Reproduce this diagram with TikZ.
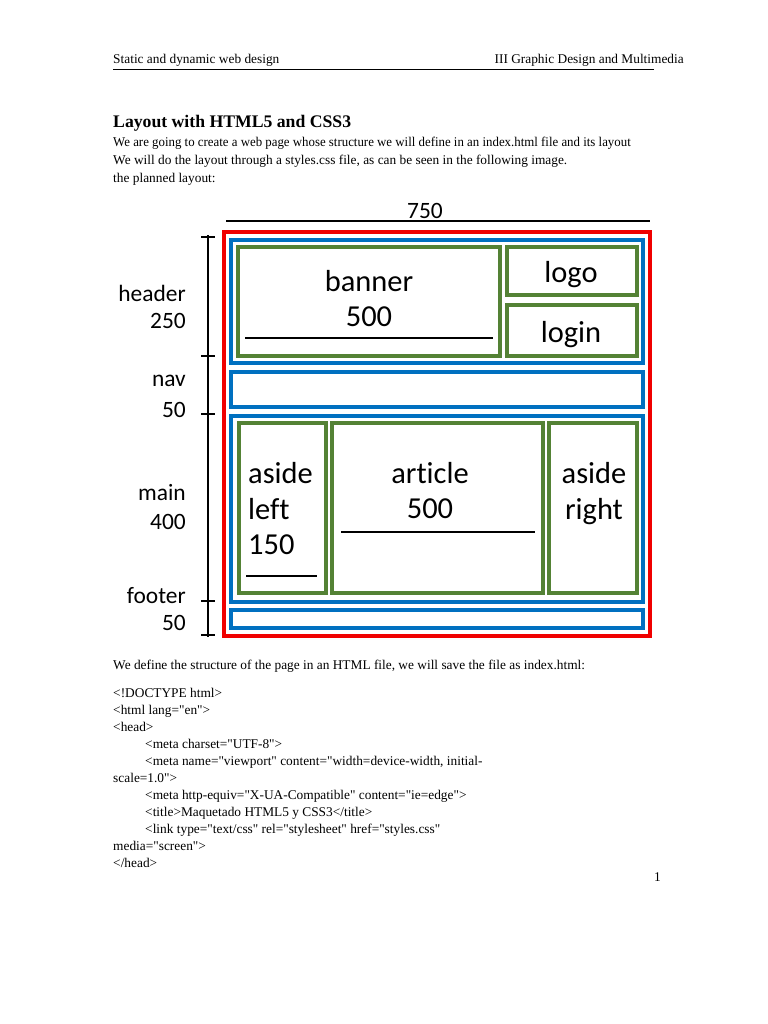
\documentclass[tikz,border=0pt]{standalone}
\usepackage{fontspec}
\setmainfont{Liberation Serif}[Ligatures=TeXOff]
\newfontfamily\calibri{Carlito}[Ligatures=NoCommon]
\usetikzlibrary{positioning}
\definecolor{boxred}{RGB}{240,0,0}
\definecolor{boxblue}{RGB}{0,112,192}
\definecolor{boxgreen}{RGB}{84,130,53}

\begin{document}
\begin{tikzpicture}[x=0.03cm,y=-0.03cm,
  txt/.style={anchor=base west,inner sep=0pt,font=\fontsize{11.4}{13}\selectfont},
  lbl/.style={anchor=east,inner sep=0pt,font=\calibri\fontsize{20}{24}\selectfont},
  big/.style={inner sep=0pt,font=\calibri\fontsize{26}{30}\selectfont},
  redbox/.style={draw=boxred,line width=3.4pt},
  bluebox/.style={draw=boxblue,line width=3.6pt},
  greenbox/.style={draw=boxgreen,line width=3.4pt},
  rule/.style={line width=1.3pt}]
  \useasboundingbox[fill=white] (0,0) rectangle (768,1024);
  % running head
  \node[txt] (headl) at (113,63) {Static and dynamic web design};
  \node[txt,anchor=base east] (headr) at (684,63) {III Graphic Design and Multimedia};
  \draw[line width=0.8pt] (113,69) -- (654,69);
  % title and intro
  \node[txt,font=\bfseries\fontsize{15.1}{18}\selectfont] (title) at (113,127) {Layout with HTML5 and CSS3};
  \node[txt] (intro1) at (113,146) {\scalebox{0.963}[1]{We are going to create a web page whose structure we will define in an index.html file and its layout}};
  \node[txt] (intro2) at (113,164) {We will do the layout through a styles.css file, as can be seen in the following image.};
  \node[txt] (intro3) at (113,182) {the planned layout:};
  % width of the page
  \node[big,font=\calibri\fontsize{20}{24}\selectfont] (width) at (425,211) {750};
  \draw[rule] (226,221) -- (650,221);
  % height scale
  \draw[line width=1pt] (208,235) -- (208,637);
  \foreach \y in {237,356,414,601,635}
    \draw[line width=1pt] (201,\y) -- (215,\y);
  \node[lbl] (header) at (186,293) {header};
  \node[lbl] (headerh) at (186,321) {250};
  \node[lbl] (nav) at (186,381) {nav};
  \node[lbl] (navh) at (186,410) {50};
  \node[lbl] (main) at (186,493) {main};
  \node[lbl] (mainh) at (186,522) {400};
  \node[lbl] (footer) at (186,596) {footer};
  \node[lbl] (footerh) at (186,623) {50};
  % boxes
  \draw[redbox] (224,232) rectangle (650,636);
  \draw[bluebox] (231,240) rectangle (643,363);
  \draw[bluebox] (231,372) rectangle (643,407);
  \draw[bluebox] (231,416) rectangle (643,602);
  \draw[bluebox] (231,610) rectangle (643,628);
  \draw[greenbox] (238,247) rectangle (500,356);
  \draw[greenbox] (507,247) rectangle (637,295);
  \draw[greenbox] (507,305) rectangle (637,356);
  \draw[greenbox] (239,423) rectangle (326,593);
  \draw[greenbox] (332,423) rectangle (543,593);
  \draw[greenbox] (549,423) rectangle (637,593);
  % box labels
  \node[big] (banner) at (369,281) {banner};
  \node[big] (bannerw) at (369,317) {500};
  \draw[rule] (245,338) -- (493,338);
  \node[big] (logo) at (571,275) {logo};
  \node[big] (login) at (571,335) {login};
  \node[big,anchor=west] (asidel1) at (248,473) {aside};
  \node[big,anchor=west] (asidel2) at (248,509) {left};
  \node[big,anchor=west] (asidel3) at (248,545) {150};
  \draw[line width=1pt] (246,576) -- (317,576);
  \node[big] (article) at (430,473) {article};
  \node[big] (articlew) at (430,509) {500};
  \draw[rule] (341,532) -- (535,532);
  \node[big] (asider1) at (594,473) {aside};
  \node[big] (asider2) at (594,512) {right};
  % html code
  \node[txt] (define) at (113,669) {We define the structure of the page in an HTML file, we will save the file as index.html:};
  \node[txt] (code1) at (113,697) {<!DOCTYPE html>};
  \node[txt] (code2) at (113,714) {<html lang="en">};
  \node[txt] (code3) at (113,731) {<head>};
  \node[txt] (code4) at (145,748) {<meta charset="UTF-8">};
  \node[txt] (code5) at (145,765) {<meta name="viewport" content="width=device-width, initial-};
  \node[txt] (code6) at (113,782) {scale=1.0">};
  \node[txt] (code7) at (145,799) {<meta http-equiv="X-UA-Compatible" content="ie=edge">};
  \node[txt] (code8) at (145,816) {<title>Maquetado HTML5 y CSS3</title>};
  \node[txt] (code9) at (145,833) {<link type="text/css" rel="stylesheet" href="styles.css"};
  \node[txt] (code10) at (113,850) {media="screen">};
  \node[txt] (code11) at (113,867) {</head>};
  \node[txt] (page) at (654,881) {1};
\end{tikzpicture}
\end{document}
